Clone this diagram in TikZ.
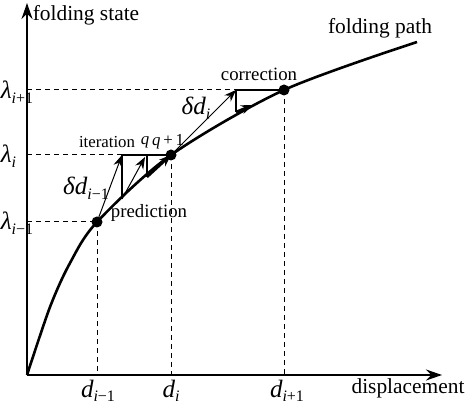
\documentclass[tikz,border=0pt]{standalone}
\usepackage{fontspec}
\setmainfont{Liberation Serif}
\usetikzlibrary{arrows.meta}
\newcommand{\sbs}[1]{\raisebox{-0.4ex}{\fontsize{8}{9}\selectfont #1}}
\newcommand{\mfont}{\fontsize{12.5}{14}\selectfont\itshape}
\begin{document}
\begin{tikzpicture}[x=0.5pt,y=-0.5pt, font=\fontsize{10.7}{12}\selectfont,
  axis/.style={line width=1pt,-{Stealth[length=8pt,width=5.5pt]}},
  fpath/.style={line width=1.3pt},
  onpath/.style={line width=1.3pt,-{Stealth[length=6pt,width=4.5pt]}},
  thinarr/.style={line width=0.5pt,-{Stealth[length=6pt,width=4.5pt]}},
  stepline/.style={line width=0.6pt},
  guide/.style={line width=0.5pt,dash pattern=on 2.5pt off 2pt},
  dot/.style={circle,fill,inner sep=0pt,minimum size=5.5pt},
  lbl/.style={inner sep=0pt},
  small/.style={inner sep=0pt,font=\fontsize{8.4}{9}\selectfont},
  mid/.style={inner sep=0pt,font=\fontsize{9.4}{11}\selectfont},
  mlbl/.style={inner sep=0pt,font=\mfont}]
\useasboundingbox (0,0) rectangle (474,415);
% axes
\coordinate (O) at (27,375);
\coordinate (Y) at (27,3);
\coordinate (X) at (442,375);
\draw[axis] (O) -- (Y);
\draw[axis] (O) -- (X);
% folding path
\draw[fpath] plot[smooth,tension=0.5] coordinates {(27,375) (50,307) (70,263) (97,222) (171,155) (284,90) (417,42)};
% points
\node[dot] (P1) at (97,222) {};
\node[dot] (P2) at (171,155) {};
\node[dot] (P3) at (284,90) {};
% helper coordinates
\coordinate (A1) at (122,155);
\coordinate (B1) at (122,199);
\coordinate (A2) at (147,155);
\coordinate (T2) at (145,157);
\coordinate (B2) at (147,177);
\coordinate (C1) at (236,90);
\coordinate (C2) at (236,112);
\coordinate (T3) at (253,105);
\coordinate (L1) at (27,222);
\coordinate (L2) at (27,155);
\coordinate (L3) at (27,90);
\coordinate (D1) at (97,375);
\coordinate (D2) at (171,375);
\coordinate (D3) at (284,375);
% guides
\draw[guide] (L3) -- (C1);
\draw[guide] (L2) -- (A1);
\draw[guide] (L1) -- (P1.center);
\draw[guide] (P1.center) -- (D1);
\draw[guide] (P2.center) -- (D2);
\draw[guide] (P3.center) -- (D3);
% iteration
\draw[thinarr] (P1.center) -- (A1);
\draw[stepline] (A1) -- (P2.center);
\draw[stepline] (A1) -- (B1);
\draw[thinarr] (B1) -- (T2);
\draw[stepline] (A2) -- (B2);
\draw[onpath] (B2) -- (P2.center);
% correction
\draw[thinarr] (P2.center) -- (C1);
\draw[stepline] (C1) -- (P3.center);
\draw[stepline] (C1) -- (C2);
\draw[onpath] (C2) -- (T3);
% labels
\node[lbl] (ys) at (86,15) {folding state};
\node[lbl] (fp) at (380,28) {folding path};
\node[lbl] (xs) at (408,388) {displacement};
\node[mid] (cor) at (259,74) {correction};
\node[mid] (pre) at (149,213) {prediction};
\node[small] (it) at (107,142) {iteration};
\node[small] (q) at (145,142) {\itshape q};
\node[small] (q1) at (168,142) {{\itshape q}\,+\,1};
\node[mlbl] (dd1) at (86,188) {δd\sbs{i\upshape−1}};
\node[mlbl] (dd2) at (196,108) {δd\sbs{i}};
\node[mlbl] (xd1) at (98,391) {d\sbs{i\upshape−1}};
\node[mlbl] (xd2) at (171,391) {d\sbs{i}};
\node[mlbl] (xd3) at (287,391) {d\sbs{i\upshape+1}};
\node[mlbl,anchor=west] (ly3) at (0.5,92) {λ\sbs{i\upshape+1}};
\node[mlbl,anchor=west] (ly2) at (0.5,156) {λ\sbs{i}};
\node[mlbl,anchor=west] (ly1) at (0.5,223) {λ\sbs{i\upshape−1}};
\end{tikzpicture}
\end{document}
